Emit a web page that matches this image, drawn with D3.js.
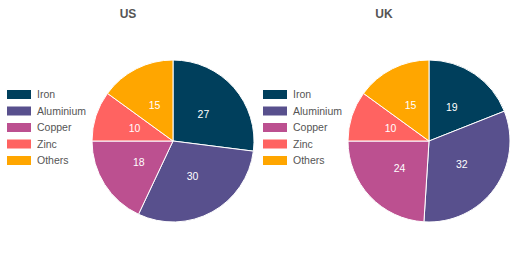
<!DOCTYPE html>
<html>
<head>
<meta charset="utf-8">
<script src="https://cdn.jsdelivr.net/npm/d3@7"></script>
<style>
  body { margin: 0; background: #fff; }
  svg { display: block; font-family: "Liberation Sans", Arial, sans-serif; }
</style>
</head>
<body>
<svg id="chart" width="512" height="256"></svg>
<script>
const metals = ["Iron", "Aluminium", "Copper", "Zinc", "Others"];
const usValues = [27, 30, 18, 10, 15];
const ukValues = [19, 32, 24, 10, 15];
const countries = ["US", "UK"];
const colors = ["#003f5c", "#58508d", "#bc5090", "#ff6361", "#ffa600"];

const svg = d3.select("#chart");
const color = d3.scaleOrdinal().domain(metals).range(colors);

const radius = 81;
const pie = d3.pie().sort(null).value((d) => d.value);
const arc = d3.arc().innerRadius(0).outerRadius(radius);
const labelArc = d3.arc().innerRadius(radius * 0.5).outerRadius(radius * 0.5);

function drawPanel(offsetX, title, values) {
  const g = svg.append("g").attr("transform", `translate(${offsetX},0)`);

  // title
  g.append("text")
    .attr("x", 128)
    .attr("y", 18)
    .attr("text-anchor", "middle")
    .style("font-size", "12px")
    .style("font-weight", "bold")
    .style("fill", "#555")
    .text(title);

  // legend
  const legend = g.selectAll("g.legend")
    .data(metals)
    .enter()
    .append("g")
    .attr("class", "legend")
    .attr("transform", (d, i) => `translate(7,${90 + i * 16.5})`);

  legend.append("rect")
    .attr("width", 24)
    .attr("height", 9)
    .attr("fill", (d) => color(d));

  legend.append("text")
    .attr("x", 30)
    .attr("y", 4.5)
    .attr("dy", "0.35em")
    .style("font-size", "10.5px")
    .style("fill", "#555")
    .text((d) => d);

  // pie
  const data = metals.map((m, i) => ({ name: m, value: values[i] }));
  const p = g.append("g").attr("transform", "translate(173,141)");

  p.selectAll("path")
    .data(pie(data))
    .enter()
    .append("path")
    .attr("d", arc)
    .attr("fill", (d) => color(d.data.name))
    .attr("stroke", "#fff")
    .attr("stroke-width", 1);

  p.selectAll("text")
    .data(pie(data))
    .enter()
    .append("text")
    .attr("transform", (d) => `translate(${labelArc.centroid(d)})`)
    .attr("text-anchor", "middle")
    .attr("dy", "0.35em")
    .style("font-size", "10.5px")
    .style("fill", "#fff")
    .text((d) => d.data.value);
}

countries.forEach((c, i) => drawPanel(i * 256, c, i === 0 ? usValues : ukValues));
</script>
</body>
</html>
